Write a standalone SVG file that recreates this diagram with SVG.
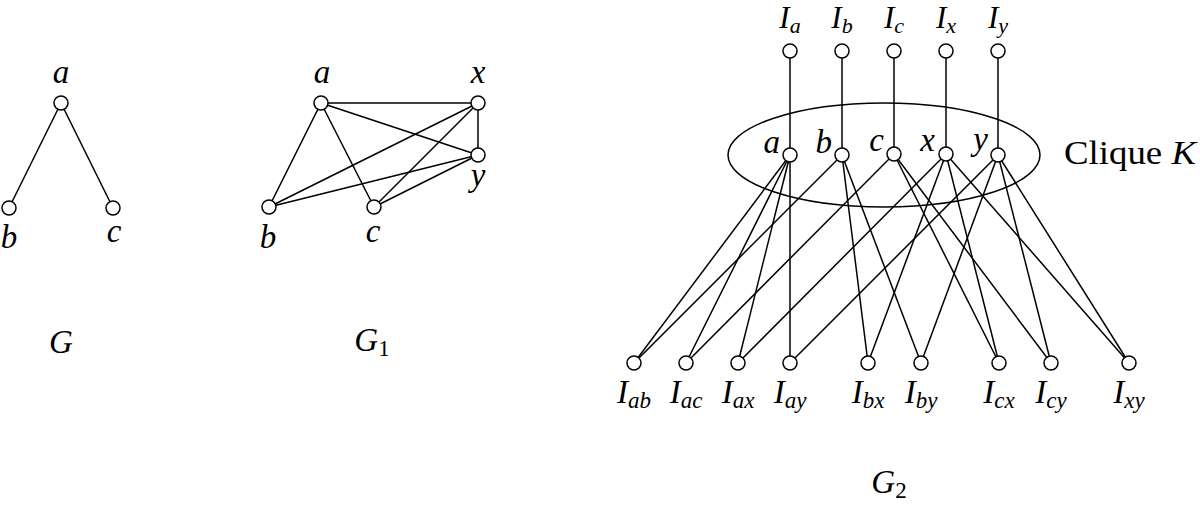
<svg xmlns="http://www.w3.org/2000/svg" width="1200" height="508" viewBox="0 0 1200 508">
<style>
.e{stroke:#000;stroke-width:1.5;fill:none}
.n{fill:#fff;stroke:#000;stroke-width:1.5}
text{font-family:"Liberation Serif","Times New Roman",serif;font-size:33px;fill:#000}
.m{font-style:italic}
.c{text-anchor:middle}
.r{text-anchor:end}
.s{font-size:23px}
.t{font-size:31px}
.t .s{font-size:22px}
</style>
<rect width="1200" height="508" fill="#fff"/>
<g id="connectors">
  <line class="e" x1="61" y1="103" x2="9" y2="208"/>
  <line class="e" x1="61" y1="103" x2="113" y2="208"/>
  <line class="e" x1="321" y1="103" x2="478" y2="103"/>
  <line class="e" x1="321" y1="103" x2="478" y2="155"/>
  <line class="e" x1="321" y1="103" x2="269" y2="207"/>
  <line class="e" x1="321" y1="103" x2="374" y2="207"/>
  <line class="e" x1="478" y1="103" x2="478" y2="155"/>
  <line class="e" x1="478" y1="103" x2="269" y2="207"/>
  <line class="e" x1="478" y1="103" x2="374" y2="207"/>
  <line class="e" x1="478" y1="155" x2="269" y2="207"/>
  <line class="e" x1="478" y1="155" x2="374" y2="207"/>
  <line class="e" x1="790" y1="51" x2="790" y2="155"/>
  <line class="e" x1="842" y1="51" x2="842" y2="155"/>
  <line class="e" x1="894" y1="51" x2="894" y2="154"/>
  <line class="e" x1="946" y1="51" x2="946" y2="154"/>
  <line class="e" x1="998" y1="51" x2="998" y2="155"/>
  <line class="e" x1="790" y1="155" x2="634" y2="363"/>
  <line class="e" x1="842" y1="155" x2="634" y2="363"/>
  <line class="e" x1="790" y1="155" x2="686" y2="363"/>
  <line class="e" x1="894" y1="154" x2="686" y2="363"/>
  <line class="e" x1="790" y1="155" x2="738" y2="363"/>
  <line class="e" x1="946" y1="154" x2="738" y2="363"/>
  <line class="e" x1="790" y1="155" x2="790" y2="363"/>
  <line class="e" x1="998" y1="155" x2="790" y2="363"/>
  <line class="e" x1="842" y1="155" x2="868" y2="363"/>
  <line class="e" x1="946" y1="154" x2="868" y2="363"/>
  <line class="e" x1="842" y1="155" x2="921" y2="363"/>
  <line class="e" x1="998" y1="155" x2="921" y2="363"/>
  <line class="e" x1="894" y1="154" x2="999" y2="363"/>
  <line class="e" x1="946" y1="154" x2="999" y2="363"/>
  <line class="e" x1="894" y1="154" x2="1051" y2="363"/>
  <line class="e" x1="998" y1="155" x2="1051" y2="363"/>
  <line class="e" x1="946" y1="154" x2="1129" y2="363"/>
  <line class="e" x1="998" y1="155" x2="1129" y2="363"/>
</g>
<g id="cliqueK">
  <ellipse class="e" cx="884" cy="155" rx="156" ry="52"/>
  <text x="1064" y="164" textLength="132" lengthAdjust="spacingAndGlyphs" font-size="34">Clique <tspan class="m">K</tspan></text>
</g>
<g id="G-a"><circle class="n" cx="61" cy="103" r="7"/><text class="m c" x="61" y="83">a</text></g>
<g id="G-b"><circle class="n" cx="9" cy="208" r="7"/><text class="m c" x="9" y="248">b</text></g>
<g id="G-c"><circle class="n" cx="113" cy="208" r="7"/><text class="m c" x="114" y="242">c</text></g>
<text id="label-G" class="m c" x="61" y="353">G</text>
<g id="G1-a"><circle class="n" cx="321" cy="103" r="7"/><text class="m c" x="322" y="83">a</text></g>
<g id="G1-x"><circle class="n" cx="478" cy="103" r="7"/><text class="m c" x="478" y="83">x</text></g>
<g id="G1-y"><circle class="n" cx="478" cy="155" r="7"/><text class="m c" x="478" y="186">y</text></g>
<g id="G1-b"><circle class="n" cx="269" cy="207" r="7"/><text class="m c" x="268" y="248">b</text></g>
<g id="G1-c"><circle class="n" cx="374" cy="207" r="7"/><text class="m c" x="373" y="242">c</text></g>
<text id="label-G1" class="c" x="372" y="351"><tspan class="m">G</tspan><tspan class="s" dy="5">1</tspan></text>
<g id="G2-Ia"><circle class="n" cx="790" cy="51" r="7"/><text class="m c t" x="790" y="28">I<tspan class="s" dy="5">a</tspan></text></g>
<g id="G2-Ib"><circle class="n" cx="842" cy="51" r="7"/><text class="m c t" x="842" y="28">I<tspan class="s" dy="5">b</tspan></text></g>
<g id="G2-Ic"><circle class="n" cx="894" cy="51" r="7"/><text class="m c t" x="894" y="28">I<tspan class="s" dy="5">c</tspan></text></g>
<g id="G2-Ix"><circle class="n" cx="946" cy="51" r="7"/><text class="m c t" x="946" y="28">I<tspan class="s" dy="5">x</tspan></text></g>
<g id="G2-Iy"><circle class="n" cx="998" cy="51" r="7"/><text class="m c t" x="998" y="28">I<tspan class="s" dy="5">y</tspan></text></g>
<g id="G2-a"><circle class="n" cx="790" cy="155" r="7"/><text class="m r" x="780" y="153">a</text></g>
<g id="G2-b"><circle class="n" cx="842" cy="155" r="7"/><text class="m r" x="832" y="153">b</text></g>
<g id="G2-c"><circle class="n" cx="894" cy="154" r="7"/><text class="m r" x="884" y="151">c</text></g>
<g id="G2-x"><circle class="n" cx="946" cy="154" r="7"/><text class="m r" x="935" y="151">x</text></g>
<g id="G2-y"><circle class="n" cx="998" cy="155" r="7"/><text class="m r" x="988" y="150">y</text></g>
<g id="G2-Iab"><circle class="n" cx="634" cy="363" r="7"/><text class="m c" x="634" y="403">I<tspan class="s" dy="5">ab</tspan></text></g>
<g id="G2-Iac"><circle class="n" cx="686" cy="363" r="7"/><text class="m c" x="686" y="403">I<tspan class="s" dy="5">ac</tspan></text></g>
<g id="G2-Iax"><circle class="n" cx="738" cy="363" r="7"/><text class="m c" x="738" y="403">I<tspan class="s" dy="5">ax</tspan></text></g>
<g id="G2-Iay"><circle class="n" cx="790" cy="363" r="7"/><text class="m c" x="790" y="403">I<tspan class="s" dy="5">ay</tspan></text></g>
<g id="G2-Ibx"><circle class="n" cx="868" cy="363" r="7"/><text class="m c" x="868" y="403">I<tspan class="s" dy="5">bx</tspan></text></g>
<g id="G2-Iby"><circle class="n" cx="921" cy="363" r="7"/><text class="m c" x="921" y="403">I<tspan class="s" dy="5">by</tspan></text></g>
<g id="G2-Icx"><circle class="n" cx="999" cy="363" r="7"/><text class="m c" x="999" y="403">I<tspan class="s" dy="5">cx</tspan></text></g>
<g id="G2-Icy"><circle class="n" cx="1051" cy="363" r="7"/><text class="m c" x="1051" y="403">I<tspan class="s" dy="5">cy</tspan></text></g>
<g id="G2-Ixy"><circle class="n" cx="1129" cy="363" r="7"/><text class="m c" x="1129" y="403">I<tspan class="s" dy="5">xy</tspan></text></g>
<text id="label-G2" class="c" x="889" y="493"><tspan class="m">G</tspan><tspan class="s" dy="5">2</tspan></text>
</svg>
